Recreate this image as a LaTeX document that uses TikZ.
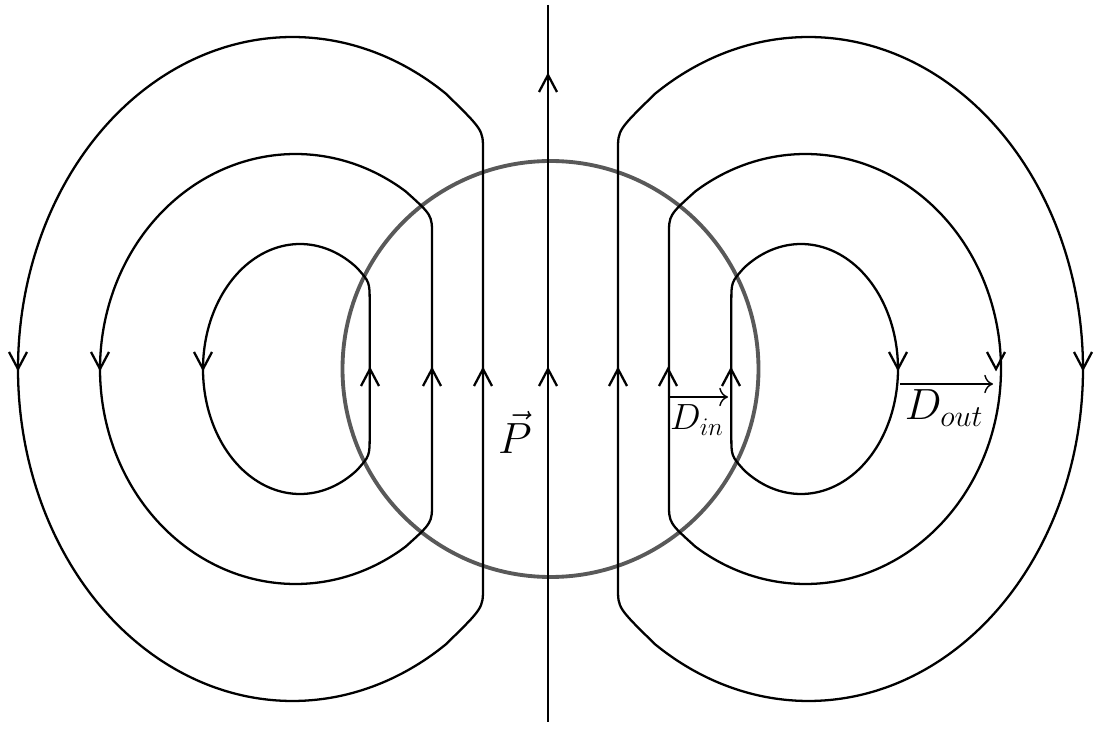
\documentclass[tikz,border=0pt]{standalone}
\usepackage{amsmath}
\usetikzlibrary{arrows.meta}
\begin{document}
\begin{tikzpicture}[x=0.02cm,y=-0.02cm,line width=1.3pt,
  fl/.style={line width=1.3pt,black},
  arr/.pic={\draw[line width=1.3pt] (-9,17)--(0,0)--(9,17);},
  arrd/.pic={\draw[line width=1.3pt] (-9,-17)--(0,0)--(9,-17);}]
\useasboundingbox (0,0) rectangle (1100,729);
\draw[gray!70!black,line width=2.2pt] (550.5,369) circle[radius=208];
% central axis
\draw[fl] (548,5)--(548,722);
\pic at (548,75) {arr};
\pic at (548,369) {arr};
% loops: xc, rx, ry, angle
\foreach \xc/\rx/\ry/\a in {300/97/125/44.1, 295.5/195.5/215/45.7, 292.5/274.5/332/46.05}{
  \pgfmathsetmacro\xv{\xc+\rx*cos(\a)}
  \pgfmathsetmacro\yv{\ry*sin(\a)}
  \pgfmathsetmacro\b{\a+10}
  \pgfmathsetmacro\xr{1101-\xc}
  \pgfmathsetmacro\xvr{1101-\xv}
  \draw[fl] (\xv,369+\yv-20) -- (\xv,369-\yv+20) .. controls (\xv,369-\yv) .. ({\xc+\rx*cos(\b)},{369-\ry*sin(\b)})
     -- plot[domain=-\b:-360+\b,samples=120,smooth] ({\xc+\rx*cos(\x)},{369+\ry*sin(\x)})
     .. controls (\xv,369+\yv) .. (\xv,369+\yv-20);
  \draw[fl] (\xvr,369+\yv-20) -- (\xvr,369-\yv+20) .. controls (\xvr,369-\yv) .. ({\xr-\rx*cos(\b)},{369-\ry*sin(\b)})
     -- plot[domain=180+\b:540-\b,samples=120,smooth] ({\xr+\rx*cos(\x)},{369+\ry*sin(\x)})
     .. controls (\xvr,369+\yv) .. (\xvr,369+\yv-20);
}
% up arrows
\foreach \x in {370,432,483,618,668,731} \pic at (\x,369) {arr};
% down arrows
\foreach \x in {18,100,203,898,996,1083} \pic at (\x,369) {arrd};
% D arrows
\draw[line width=0.8pt,-{To[length=5pt]}] (668,397)--(728,397);
\draw[line width=0.8pt,-{To[length=5pt]}] (900,384)--(993,384);
\node[font=\fontsize{22}{24}\selectfont] (din) at (697,420) {$D_{in}$};
\node[font=\fontsize{24}{26}\selectfont] (dout) at (944,408) {$D_{out}$};
\node[font=\fontsize{30}{32}\selectfont] (p) at (515,432) {$\vec{P}$};
\end{tikzpicture}
\end{document}
